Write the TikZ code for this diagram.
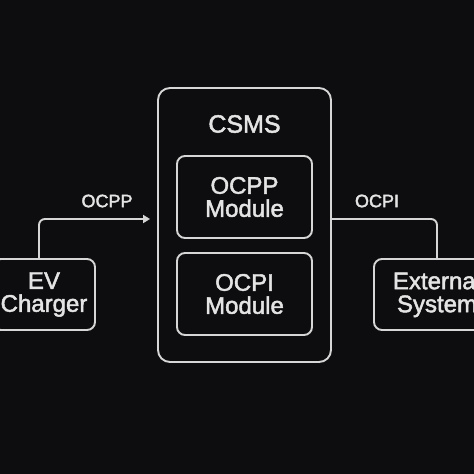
\documentclass[tikz,border=0pt]{standalone}
\usepackage{fontspec}
\setmainfont[FakeBold=2]{Liberation Sans}
\usetikzlibrary{arrows.meta}
\definecolor{bgdark}{HTML}{0D0D0F}
\definecolor{linegray}{HTML}{D6D6D6}
\definecolor{textgray}{HTML}{E4E4E4}
\begin{document}
\begin{tikzpicture}[x=1pt,y=-1pt,>={Triangle[length=7pt,width=8pt]},
 box/.style={draw=linegray,line width=1.9pt,rounded corners=8pt,align=center,
   text=textgray,font=\fontsize{24}{24}\selectfont,inner sep=0pt},
 lab/.style={text=textgray,font=\fontsize{18}{18}\selectfont,inner sep=1pt},
 wire/.style={draw=linegray,line width=1.9pt,rounded corners=6pt}]
\fill[bgdark] (0,0) rectangle (474,474);
\useasboundingbox (0,0) rectangle (474,474);
\clip (0,0) rectangle (474,474);
\node[box,minimum width=173pt,minimum height=274pt,rounded corners=12pt] (csms) at (244.5,225) {};
\node[text=textgray,font=\fontsize{25}{26}\selectfont] (title) at (244.5,124) {CSMS};
\node[box,minimum width=135pt,minimum height=82pt] (ocppmod) at (244.5,197) {OCPP\\[-1pt]Module};
\node[box,minimum width=135pt,minimum height=82pt] (ocpimod) at (244.5,294) {OCPI\\[-1pt]Module};
\node[box,minimum width=102pt,minimum height=71pt] (ev) at (44,294.5) {EV\\[-1pt]Charger};
\node[box,minimum width=126pt,minimum height=71pt] (ext) at (437,294.5) {External\\[-1pt]System};
\node[lab] (ocpplab) at (107,201) {OCPP};
\node[lab] (ocpilab) at (377,201) {OCPI};
\draw[wire,->,shorten >=7pt] ([xshift=-5pt]ev.north) |- ([yshift=6pt]csms.west);
\draw[wire] ([yshift=6pt]csms.east) -| (ext.north);
\end{tikzpicture}
\end{document}
